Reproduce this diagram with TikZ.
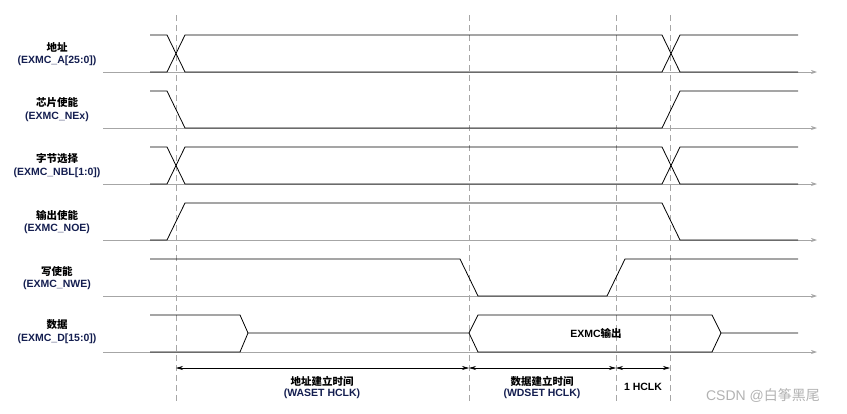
\documentclass[tikz,border=0pt]{standalone}
\usepackage{fontspec}
\setmainfont{Liberation Sans}
\newfontfamily\cjk{Noto Sans CJK SC}
\usetikzlibrary{arrows.meta}
\definecolor{navy}{RGB}{20,30,80}
\tikzset{
  sig/.style={black, line width=0.8pt},
  axisl/.style={gray!70, line width=0.7pt, -{Stealth[length=6pt,width=4pt]}},
  guide/.style={gray!70, dash pattern=on 6pt off 4pt, line width=0.6pt},
  dim/.style={black, line width=0.6pt, {Stealth[length=7pt,width=4pt]}-{Stealth[length=7pt,width=4pt]}},
  lab/.style={font=\fontsize{10.5}{12}\selectfont\bfseries, align=center},
  labn/.style={lab, text=navy},
}
\begin{document}
\begin{tikzpicture}[x=1pt,y=-1pt]
\useasboundingbox (0,0) rectangle (847,413);
\node[lab] (la) at (57,47) {\cjk\bfseries 地址};
\node[labn] (la2) at (57,61) {(EXMC\_A[25:0])};
\node[lab] (lb) at (57,103) {\cjk\bfseries 芯片使能};
\node[labn] (lb2) at (57,117) {(EXMC\_NEx)};
\node[lab] (lc) at (57,159) {\cjk\bfseries 字节选择};
\node[labn] (lc2) at (57,173) {(EXMC\_NBL[1:0])};
\node[lab] (ld) at (57,215) {\cjk\bfseries 输出使能};
\node[labn] (ld2) at (57,229) {(EXMC\_NOE)};
\node[lab] (le) at (57,271) {\cjk\bfseries 写使能};
\node[labn] (le2) at (57,285) {(EXMC\_NWE)};
\node[lab] (lf) at (57,325) {\cjk\bfseries 数据};
\node[labn] (lf2) at (57,339) {(EXMC\_D[15:0])};
% axes
\foreach \yy in {72,128,184,240,296,352}{
  \draw[axisl] (103,\yy) -- (817,\yy);
}
% guides
\foreach \xx in {176,469,616,670}{
  \draw[guide] (\xx,15) -- (\xx,402);
}
% row 1 and 3: bus
\foreach \hh/\ll in {35/72,147/184}{
  \draw[sig] (150,\hh) -- (167,\hh) -- (185,\ll) -- (662,\ll) -- (680,\hh) -- (798,\hh);
  \draw[sig] (150,\ll) -- (167,\ll) -- (185,\hh) -- (662,\hh) -- (680,\ll) -- (798,\ll);
}
\draw[sig] (150,91) -- (167,91) -- (185,128) -- (662,128) -- (680,91) -- (798,91);
\draw[sig] (150,240) -- (167,240) -- (185,203) -- (662,203) -- (680,240) -- (798,240);
\draw[sig] (150,259) -- (460,259) -- (478,296) -- (607,296) -- (625,259) -- (798,259);
\draw[sig] (150,315) -- (240,315) -- (248,333) -- (469,333) -- (478,315) -- (712,315) -- (721,333) -- (798,333);
\draw[sig] (150,352) -- (240,352) -- (248,333);
\draw[sig] (469,333) -- (478,352) -- (712,352) -- (721,333);
\node[lab] (dout) at (596,333) {EXMC{\cjk\bfseries 输出}};
\coordinate (d1) at (176,368); \coordinate (d2) at (469,368);
\coordinate (d3) at (616,368); \coordinate (d4) at (670,368);
\draw[dim] (d1) -- (d2);
\draw[dim] (d2) -- (d3);
\draw[dim] (d3) -- (d4);
\node[lab] (t1) at (322,381) {\cjk\bfseries 地址建立时间};
\node[labn] (t1b) at (322,394) {(WASET HCLK)};
\node[lab] (t2) at (542,381) {\cjk\bfseries 数据建立时间};
\node[labn] (t2b) at (542,394) {(WDSET HCLK)};
\node[lab] (t3) at (643,387) {1 HCLK};
\node[text=gray!60, font=\fontsize{14}{16}\selectfont] (wm) at (763,395) {CSDN @{\cjk 白筝黑尾}};
\end{tikzpicture}
\end{document}
